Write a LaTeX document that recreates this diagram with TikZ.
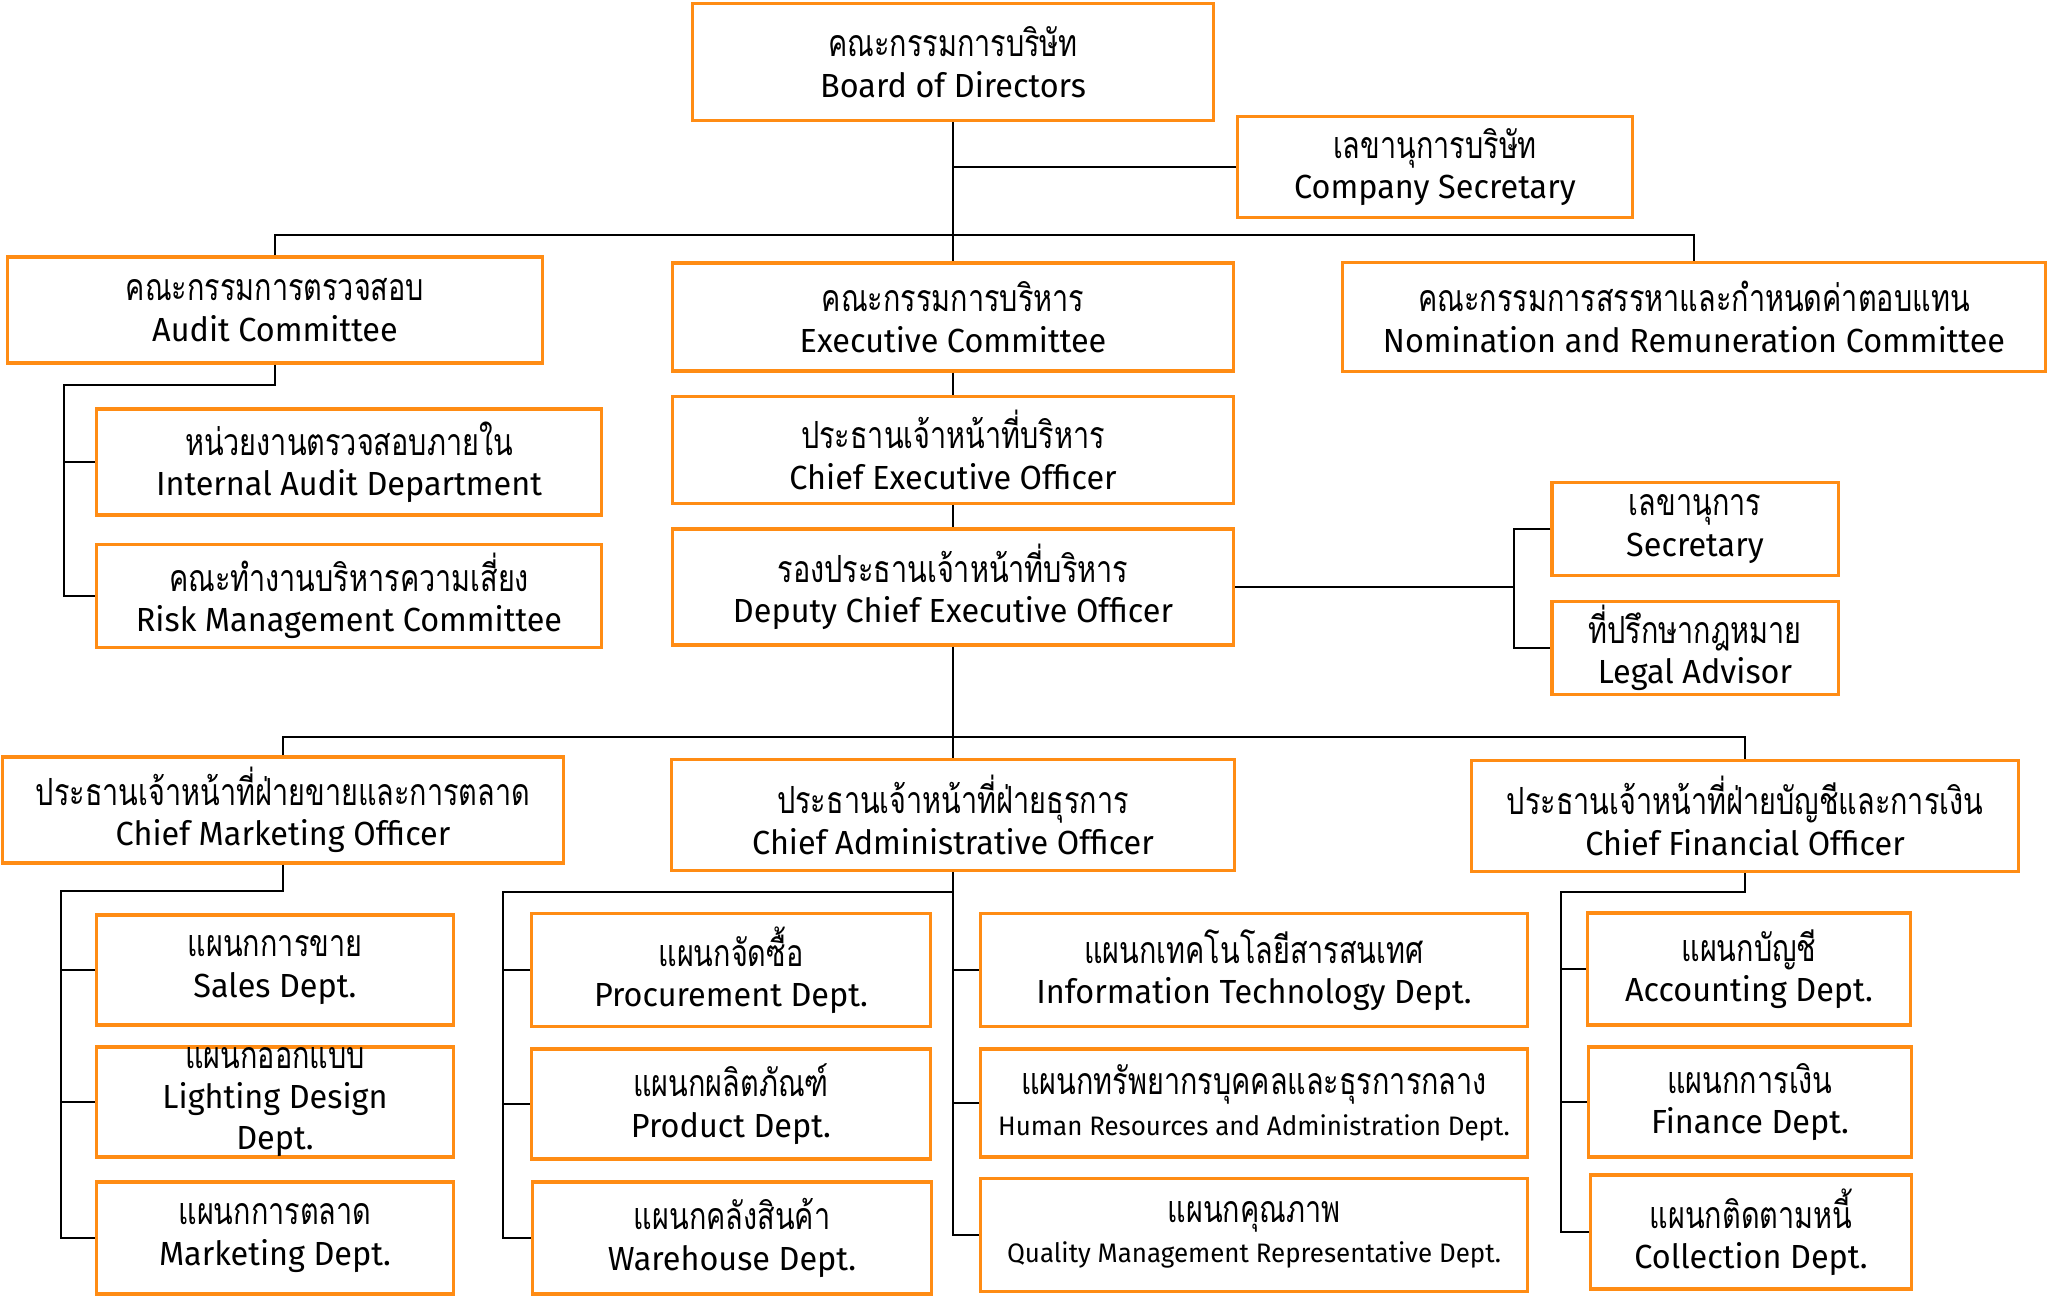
\documentclass[tikz,border=0pt]{standalone}
\usepackage{fontspec}
\setmainfont{Fira Sans}[FakeStretch=0.97]
\newfontfamily\thaifont[Script=Thai, Scale=1.12, FakeStretch=0.77]{Loma}
\definecolor{orgorange}{RGB}{255,140,20}
\tikzset{
  unit/.style={draw=orgorange, line width=0.9pt, align=center, inner sep=0pt,
    font=\fontsize{9.5}{11.5}\selectfont},
  link/.style={line width=0.7pt, black}
}
\newcommand{\tl}[1]{{\thaifont #1}}
\begin{document}
\begin{tikzpicture}[x=0.01cm, y=-0.01cm]
\useasboundingbox (0,0) rectangle (2048,1300);
% top level
\node[unit, minimum width=5.20cm, minimum height=1.17cm] (board) at (953,62) {\tl{คณะกรรมการบริษัท}\\Board of Directors};
\node[unit, minimum width=3.94cm, minimum height=1.01cm] (compsec) at (1435,167) {\tl{เลขานุการบริษัท}\\Company Secretary};
\node[unit, minimum width=5.34cm, minimum height=1.06cm] (audit) at (275,310) {\tl{คณะกรรมการตรวจสอบ}\\Audit Committee};
\node[unit, minimum width=5.61cm, minimum height=1.08cm] (exec) at (953,317) {\tl{คณะกรรมการบริหาร}\\Executive Committee};
\node[unit, minimum width=7.02cm, minimum height=1.09cm] (nom) at (1694,317) {\tl{คณะกรรมการสรรหาและกำหนดค่าตอบแทน}\\Nomination and Remuneration Committee};
\node[unit, minimum width=5.05cm, minimum height=1.06cm] (intaudit) at (349,462) {\tl{หน่วยงานตรวจสอบภายใน}\\Internal Audit Department};
\node[unit, minimum width=5.05cm, minimum height=1.03cm] (risk) at (349,596) {\tl{คณะทำงานบริหารความเสี่ยง}\\Risk Management Committee};
\node[unit, minimum width=5.61cm, minimum height=1.07cm] (ceo) at (953,450) {\tl{ประธานเจ้าหน้าที่บริหาร}\\Chief Executive Officer};
\node[unit, minimum width=5.61cm, minimum height=1.16cm] (dceo) at (953,587) {\tl{รองประธานเจ้าหน้าที่บริหาร}\\Deputy Chief Executive Officer};
\node[unit, minimum width=2.86cm, minimum height=0.93cm] (sec) at (1695,529) {\tl{เลขานุการ}\\Secretary};
\node[unit, minimum width=2.86cm, minimum height=0.93cm] (legal) at (1695,648) {\tl{ที่ปรึกษากฎหมาย}\\Legal Advisor};
% chief officers
\node[unit, minimum width=5.61cm, minimum height=1.06cm] (cmo) at (283,810) {\tl{ประธานเจ้าหน้าที่ฝ่ายขายและการตลาด}\\Chief Marketing Officer};
\node[unit, minimum width=5.62cm, minimum height=1.11cm] (cao) at (953,815) {\tl{ประธานเจ้าหน้าที่ฝ่ายธุรการ}\\Chief Administrative Officer};
\node[unit, minimum width=5.47cm, minimum height=1.11cm] (cfo) at (1745,816) {\tl{ประธานเจ้าหน้าที่ฝ่ายบัญชีและการเงิน}\\Chief Financial Officer};
% departments
\node[unit, minimum width=3.56cm, minimum height=1.10cm] (sales) at (275,970) {\tl{แผนกการขาย}\\Sales Dept.};
\node[unit, minimum width=3.56cm, minimum height=1.10cm] (lighting) at (275,1102) {\tl{แผนกออกแบบ}\\Lighting Design\\Dept.};
\node[unit, minimum width=3.56cm, minimum height=1.12cm] (marketing) at (275,1238) {\tl{แผนกการตลาด}\\Marketing Dept.};
\node[unit, minimum width=3.98cm, minimum height=1.13cm] (procure) at (731,970) {\tl{แผนกจัดซื้อ}\\Procurement Dept.};
\node[unit, minimum width=3.98cm, minimum height=1.10cm] (product) at (731,1104) {\tl{แผนกผลิตภัณฑ์}\\Product Dept.};
\node[unit, minimum width=3.98cm, minimum height=1.12cm] (warehouse) at (732,1238) {\tl{แผนกคลังสินค้า}\\Warehouse Dept.};
\node[unit, minimum width=5.47cm, minimum height=1.13cm] (it) at (1254,970) {\tl{แผนกเทคโนโลยีสารสนเทศ}\\Information Technology Dept.};
\node[unit, minimum width=5.47cm, minimum height=1.08cm] (hr) at (1254,1103) {\tl{แผนกทรัพยากรบุคคลและธุรการกลาง}\\{\fontsize{7.6}{10}\selectfont Human Resources and Administration Dept.}};
\node[unit, minimum width=5.47cm, minimum height=1.13cm] (quality) at (1254,1235) {\tl{แผนกคุณภาพ}\\{\fontsize{7.6}{10}\selectfont Quality Management Representative Dept.}};
\node[unit, minimum width=3.23cm, minimum height=1.12cm] (account) at (1749,969) {\tl{แผนกบัญชี}\\Accounting Dept.};
\node[unit, minimum width=3.23cm, minimum height=1.10cm] (finance) at (1750,1102) {\tl{แผนกการเงิน}\\Finance Dept.};
\node[unit, minimum width=3.21cm, minimum height=1.14cm] (collect) at (1751,1232) {\tl{แผนกติดตามหนี้}\\Collection Dept.};
% connectors
\coordinate (bus1) at (953,235);
\coordinate (abr) at (64,385);
\coordinate (dbr) at (1514,587);
\coordinate (bus2) at (953,737);
\coordinate (mbr) at (61,891);
\coordinate (cbr) at (503,892);
\coordinate (fbr) at (1561,892);
\draw[link] (board.south) -- (exec.north);
\draw[link] (board.south |- compsec.west) -- (compsec.west);
\draw[link] (audit.north) |- (bus1) -| (nom.north);
\draw[link] (audit.south) |- (abr) |- (risk.west);
\draw[link] (abr |- intaudit.west) -- (intaudit.west);
\draw[link] (exec.south) -- (ceo.north);
\draw[link] (ceo.south) -- (dceo.north);
\draw[link] (dceo.east) -- (dbr);
\draw[link] (sec.west) -| (dbr |- legal.west) -- (legal.west);
\draw[link] (dceo.south) -- (cao.north);
\draw[link] (cmo.north) |- (bus2) -| (cfo.north);
\draw[link] (cmo.south) |- (mbr) |- (marketing.west);
\draw[link] (mbr |- sales.west) -- (sales.west);
\draw[link] (mbr |- lighting.west) -- (lighting.west);
\draw[link] (cao.south) |- (cbr) |- (warehouse.west);
\draw[link] (cbr |- procure.west) -- (procure.west);
\draw[link] (cbr |- product.west) -- (product.west);
\draw[link] (cao.south) |- (quality.west);
\draw[link] (cao.south |- it.west) -- (it.west);
\draw[link] (cao.south |- hr.west) -- (hr.west);
\draw[link] (cfo.south) |- (fbr) |- (collect.west);
\draw[link] (fbr |- account.west) -- (account.west);
\draw[link] (fbr |- finance.west) -- (finance.west);
\end{tikzpicture}
\end{document}
